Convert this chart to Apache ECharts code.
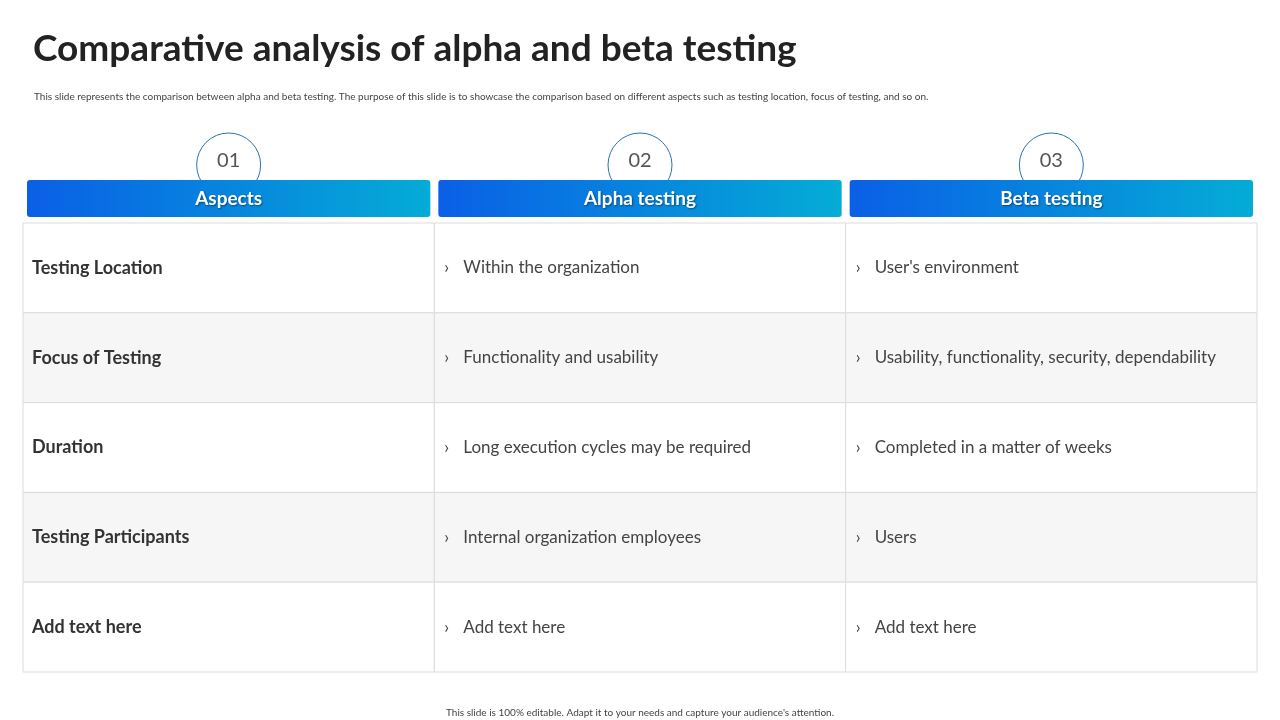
<!DOCTYPE html>
<html><head><meta charset="utf-8">
<script src="https://cdn.jsdelivr.net/npm/echarts@6/dist/echarts.min.js"></script>
<style>html,body{margin:0;padding:0;background:#fff}#c{width:1280px;height:720px}</style>
</head><body><div id="c"></div>
<script>
const columns = ['Aspects', 'Alpha testing', 'Beta testing'];
const numbers = ['01', '02', '03'];
const aspects = ['Testing Location', 'Focus of Testing', 'Duration', 'Testing Participants', 'Add text here'];
const alpha = ['Within the organization', 'Functionality and usability', 'Long execution cycles may be required', 'Internal organization employees', 'Add text here'];
const beta = ['User\'s environment', 'Usability, functionality, security, dependability', 'Completed in a matter of weeks', 'Users', 'Add text here'];

const cells = [];
aspects.forEach((a, r) => {
  cells.push([0, r, a]);
  cells.push([1, r, alpha[r]]);
  cells.push([2, r, beta[r]]);
});
const heads = columns.map((c, i) => [i, 0, c, numbers[i]]);
const FONT = 'Lato, "Open Sans", sans-serif';

const chart = echarts.init(document.getElementById('c'));
chart.setOption({
  animation: false,
  title: [
    {text: 'Comparative analysis of alpha and beta testing', left: 28, top: 26,
     textStyle: {fontSize: 37, fontWeight: 'bold', color: '#222', fontFamily: FONT}},
    {text: 'This slide represents the comparison between alpha and beta testing. The purpose of this slide is to showcase the comparison based on different aspects such as testing location, focus of testing, and so on.',
     left: 29, top: 87, textStyle: {fontSize: 10, fontWeight: 'normal', color: '#444', fontFamily: FONT}},
    {text: 'This slide is 100% editable. Adapt it to your needs and capture your audience\'s attention.',
     left: 'center', top: 703, textStyle: {fontSize: 10, fontWeight: 'normal', color: '#444', fontFamily: FONT}}
  ],
  grid: [
    {left: 23, width: 1234, top: 223, height: 449},
    {left: 23, width: 1234, top: 130, height: 88}
  ],
  xAxis: [
    {type: 'category', data: columns, gridIndex: 0, show: false},
    {type: 'category', data: columns, gridIndex: 1, show: false}
  ],
  yAxis: [
    {type: 'category', data: aspects, inverse: true, gridIndex: 0, show: false},
    {type: 'category', data: ['h'], gridIndex: 1, show: false}
  ],
  series: [
    {
      type: 'custom', xAxisIndex: 0, yAxisIndex: 0, data: cells,
      renderItem: function (params, api) {
        const c = api.coord([api.value(0), api.value(1)]);
        const s = api.size([1, 1]);
        const x = c[0] - s[0] / 2, y = c[1] - s[1] / 2;
        const col = api.value(0), row = api.value(1);
        const txt = cells[params.dataIndex][2];
        const children = [{
          type: 'rect', shape: {x: x, y: y, width: s[0], height: s[1]},
          style: {fill: row % 2 ? '#f6f6f6' : '#ffffff', stroke: '#dcdcdc', lineWidth: 1}
        }];
        if (col === 0) {
          children.push({type: 'text', style: {text: txt, x: x + 9, y: c[1], verticalAlign: 'middle',
            font: 'bold 18px ' + FONT, fill: '#333'}});
        } else {
          children.push({type: 'text', style: {text: '›', x: x + 10, y: c[1], verticalAlign: 'middle',
            font: '17px ' + FONT, fill: '#444'}});
          children.push({type: 'text', style: {text: txt, x: x + 29, y: c[1], verticalAlign: 'middle',
            font: '17px ' + FONT, fill: '#444'}});
        }
        return {type: 'group', children: children};
      }
    },
    {
      type: 'custom', xAxisIndex: 1, yAxisIndex: 1, data: heads,
      renderItem: function (params, api) {
        const c = api.coord([api.value(0), 0]);
        const s = api.size([1, 1]);
        const x = c[0] - s[0] / 2;
        const h = heads[params.dataIndex];
        const top = 180, hh = 37;
        return {type: 'group', children: [
          {type: 'circle', shape: {cx: c[0], cy: 165, r: 32},
           style: {fill: '#fff', stroke: '#2f6db3', lineWidth: 1}},
          {type: 'text', style: {text: h[3], x: c[0], y: 161, align: 'center', verticalAlign: 'middle',
            font: '20px ' + FONT, fill: '#555'}},
          {type: 'rect', shape: {x: x + 4, y: top, width: s[0] - 8, height: hh, r: 3},
           style: {fill: new echarts.graphic.LinearGradient(0, 0, 1, 0, [
             {offset: 0, color: '#0a5fe6'}, {offset: 1, color: '#04acd6'}])}},
          {type: 'text', style: {text: h[2], x: c[0], y: top + hh / 2, align: 'center', verticalAlign: 'middle',
            font: 'bold 19px ' + FONT, fill: '#fff', textShadowColor: 'rgba(0,0,0,0.45)', textShadowBlur: 2,
            textShadowOffsetX: 1, textShadowOffsetY: 1}}
        ]};
      }
    }
  ]
});
</script></body></html>
